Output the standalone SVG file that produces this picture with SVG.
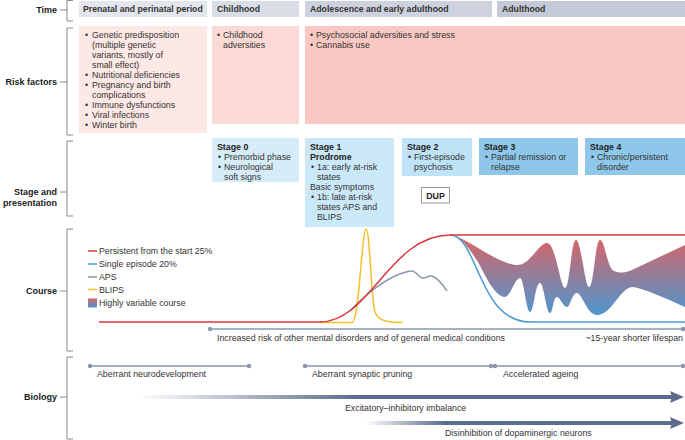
<svg xmlns="http://www.w3.org/2000/svg" width="685" height="440" viewBox="0 0 685 440">
<defs>
<style>
text{font-family:"Liberation Sans",Arial,sans-serif;fill:#333;font-size:8.8px}
.b{font-weight:bold;fill:#222}
.lab{font-weight:bold;font-size:9px;fill:#1a1a1a;text-anchor:end}
.hd{font-weight:bold;font-size:8.7px;fill:#333}
.br{fill:none;stroke:#8a8a8a;stroke-width:1}
.gl{stroke:#8c96ae;stroke-width:1.5;fill:none}
.dot{fill:#8c96ae}
.crv{fill:none;stroke-width:1.5}
</style>
<linearGradient id="band" gradientUnits="userSpaceOnUse" x1="0" y1="240" x2="0" y2="318">
<stop offset="0" stop-color="#d2666b"/>
<stop offset="1" stop-color="#4a98d2"/>
</linearGradient>
<linearGradient id="sw" x1="0" y1="0" x2="0" y2="1">
<stop offset="0" stop-color="#d2666b"/>
<stop offset="1" stop-color="#4a98d2"/>
</linearGradient>
<linearGradient id="ar1" gradientUnits="userSpaceOnUse" x1="140" y1="0" x2="683" y2="0">
<stop offset="0" stop-color="#5b6c8c" stop-opacity="0"/>
<stop offset="0.4" stop-color="#5b6c8c" stop-opacity="1"/>
</linearGradient>
<linearGradient id="ar2" gradientUnits="userSpaceOnUse" x1="365" y1="0" x2="683" y2="0">
<stop offset="0" stop-color="#5b6c8c" stop-opacity="0"/>
<stop offset="0.25" stop-color="#5b6c8c" stop-opacity="1"/>
</linearGradient>
</defs>
<rect width="685" height="440" fill="#fff"/>

<!-- row labels and brackets -->
<g id="labels">
<text class="lab" x="57" y="13">Time</text>
<text class="lab" x="57" y="85">Risk factors</text>
<text class="lab" x="57" y="195">Stage and</text>
<text class="lab" x="57" y="205.5">presentation</text>
<text class="lab" x="57" y="294">Course</text>
<text class="lab" x="57" y="400">Biology</text>
<path class="br" d="M73,0.5 H67 V21 H73 M60,10 H67"/>
<path class="br" d="M73,28 H67 V135 H73 M60,82 H67"/>
<path class="br" d="M73,141 H67 V216 H73 M60,192 H67"/>
<path class="br" d="M73,229 H67 V351 H73 M60,291 H67"/>
<path class="br" d="M73,357 H67 V439 H73 M60,397 H67"/>
</g>

<!-- time row -->
<g id="time-prenatal"><rect x="79" y="1" width="128" height="16" fill="#e3e6ed"/><text class="hd" x="83" y="12">Prenatal and perinatal period</text></g>
<g id="time-childhood"><rect x="212" y="1" width="87" height="16" fill="#d9dde6"/><text class="hd" x="217" y="12">Childhood</text></g>
<g id="time-adolescence"><rect x="305" y="1" width="187" height="16" fill="#cdd2de"/><text class="hd" x="310" y="12">Adolescence and early adulthood</text></g>
<g id="time-adulthood"><rect x="497" y="1" width="188" height="16" fill="#c3c9d6"/><text class="hd" x="502" y="12">Adulthood</text></g>

<!-- risk factors -->
<g id="risk-prenatal"><rect x="79" y="26" width="128" height="107" fill="#fde8e6"/>
<text x="85" y="37.5">•</text><text x="92" y="37.5">Genetic predisposition</text>
<text x="92" y="47.6">(multiple genetic</text>
<text x="92" y="57.7">variants, mostly of</text>
<text x="92" y="67.8">small effect)</text>
<text x="85" y="77.9">•</text><text x="92" y="77.9">Nutritional deficiencies</text>
<text x="85" y="88">•</text><text x="92" y="88">Pregnancy and birth</text>
<text x="92" y="98.1">complications</text>
<text x="85" y="108.2">•</text><text x="92" y="108.2">Immune dysfunctions</text>
<text x="85" y="118.3">•</text><text x="92" y="118.3">Viral infections</text>
<text x="85" y="128.4">•</text><text x="92" y="128.4">Winter birth</text>
</g>
<g id="risk-childhood"><rect x="212" y="26" width="87" height="98" fill="#fbdad6"/>
<text x="217" y="37.5">•</text><text x="223" y="37.5">Childhood</text>
<text x="223" y="47.6">adversities</text>
</g>
<g id="risk-adult"><rect x="305" y="26" width="380" height="98" fill="#f9c8c3"/>
<text x="310" y="37.5">•</text><text x="316" y="37.5">Psychosocial adversities and stress</text>
<text x="310" y="47.6">•</text><text x="316" y="47.6">Cannabis use</text>
</g>

<!-- stages -->
<g id="stage0"><rect x="212" y="138" width="87" height="44" fill="#d6edf9"/>
<text class="b" x="217" y="150">Stage 0</text>
<text x="218" y="160">•</text><text x="224" y="160">Premorbid phase</text>
<text x="218" y="170">•</text><text x="224" y="170">Neurological</text>
<text x="224" y="180">soft signs</text>
</g>
<g id="stage1"><rect x="305" y="138" width="89" height="89" fill="#cbe8f8"/>
<text class="b" x="310" y="150">Stage 1</text>
<text class="b" x="310" y="160">Prodrome</text>
<text x="311" y="170">•</text><text x="317" y="170">1a: early at-risk</text>
<text x="317" y="180">states</text>
<text x="310" y="190">Basic symptoms</text>
<text x="311" y="200">•</text><text x="317" y="200">1b: late at-risk</text>
<text x="317" y="210">states APS and</text>
<text x="317" y="220">BLIPS</text>
</g>
<g id="stage2"><rect x="402" y="138" width="70" height="38" fill="#bfe3f7"/>
<text class="b" x="407" y="150">Stage 2</text>
<text x="408" y="160">•</text><text x="414" y="160">First-episode</text>
<text x="414" y="170">psychosis</text>
</g>
<g id="stage3"><rect x="479" y="138" width="99" height="37" fill="#8ec7e9"/>
<text class="b" x="484" y="150">Stage 3</text>
<text x="485" y="160">•</text><text x="491" y="160">Partial remission or</text>
<text x="491" y="170">relapse</text>
</g>
<g id="stage4"><rect x="585" y="138" width="100" height="37" fill="#8ec7e9"/>
<text class="b" x="590" y="150">Stage 4</text>
<text x="591" y="160">•</text><text x="597" y="160">Chronic/persistent</text>
<text x="597" y="170">disorder</text>
</g>
<g id="dup"><rect x="421.5" y="187.5" width="28" height="15.5" fill="#fff" stroke="#9a9a9a" stroke-width="1"/>
<text class="b" x="435.5" y="198.5" text-anchor="middle">DUP</text>
</g>

<!-- course legend -->
<g id="legend">
<line x1="88" y1="251" x2="97" y2="251" stroke="#d9373c" stroke-width="1.5"/><text x="99" y="254">Persistent from the start 25%</text>
<line x1="88" y1="264" x2="97" y2="264" stroke="#4a9bd6" stroke-width="1.5"/><text x="99" y="267">Single episode 20%</text>
<line x1="88" y1="277" x2="97" y2="277" stroke="#8c96ae" stroke-width="1.5"/><text x="99" y="280">APS</text>
<line x1="88" y1="289.5" x2="97" y2="289.5" stroke="#f2c12e" stroke-width="1.5"/><text x="99" y="292.5">BLIPS</text>
<rect x="88" y="298.5" width="9" height="9" fill="url(#sw)"/><text x="99" y="306">Highly variable course</text>
</g>

<!-- course curves -->
<g id="connectors">
<path id="variable" fill="url(#band)" d="M452,235 C470,240 495,262 515,265 C530,267 538,243 547,243 C556,243 560,288 565,288 C570,288 571,240 576,240 C581,240 585,287 589,287 C594,287 595,240 600,240 C605,240 607,268 614,271 C622,274 628,272 634,269 L685,245 L685,307 C665,298 645,289 633,287 C620,287 612,315 597,315 C587,315 582,293 577,293 C572,293 570,307 567,307 C563,307 560,297 557,297 C553,297 553,313 550,313 C546,313 544,283 540,283 C535,283 534,312 530,312 C526,312 524,278 520,278 C515,278 510,297 505,297 C495,297 485,275 478,262 C470,250 462,237 452,235 Z"/>
<path id="blips" class="crv" stroke="#f2c12e" d="M320,322.5 H352 C359,322.5 362,229 366,229 C370,229 371,300 375,312 C378,320 385,322.5 403,322.5"/>
<path id="aps" class="crv" stroke="#8c96ae" d="M350,311 C358,302 376,285 395,276 C402,273 408,271 412,271 C416,271 419,278 423,278 C427,278 429,275 432,276 C438,278 443,285 447,291"/>
<path id="single" class="crv" stroke="#4a9bd6" d="M450,235 C478,235 478,322 530,322 H685"/>
<path id="persistent" class="crv" stroke="#d9373c" d="M99,322 H320 C370,322 390,235 450,235 H685"/>
<line class="gl" x1="210" y1="329" x2="683" y2="329"/>
<circle class="dot" cx="210" cy="329" r="2.2"/><circle class="dot" cx="683" cy="329" r="2.2"/>
</g>
<text x="217" y="341">Increased risk of other mental disorders and of general medical conditions</text>
<text x="683" y="341" text-anchor="end">~15-year shorter lifespan</text>

<!-- biology -->
<g id="bio-neurodev">
<line class="gl" x1="90" y1="366" x2="249" y2="366"/>
<circle class="dot" cx="90" cy="366" r="2.2"/><circle class="dot" cx="249" cy="366" r="2.2"/>
<text x="97" y="377">Aberrant neurodevelopment</text>
</g>
<g id="bio-pruning">
<line class="gl" x1="305" y1="366" x2="491" y2="366"/>
<circle class="dot" cx="305" cy="366" r="2.2"/><circle class="dot" cx="491" cy="366" r="2.2"/>
<text x="312" y="377">Aberrant synaptic pruning</text>
</g>
<g id="bio-ageing">
<line class="gl" x1="495" y1="366" x2="683" y2="366"/>
<circle class="dot" cx="495" cy="366" r="2.2"/><circle class="dot" cx="683" cy="366" r="2.2"/>
<text x="503" y="377">Accelerated ageing</text>
</g>
<g id="bio-ei">
<rect x="140" y="395" width="532" height="4" fill="url(#ar1)"/>
<polygon points="670,391 684,397 670,403 672,397" fill="#5b6c8c"/>
<text x="345" y="411">Excitatory–inhibitory imbalance</text>
</g>
<g id="bio-da">
<rect x="365" y="421" width="307" height="4" fill="url(#ar2)"/>
<polygon points="670,417 684,423 670,429 672,423" fill="#5b6c8c"/>
<text x="445" y="436">Disinhibition of dopaminergic neurons</text>
</g>
</svg>
